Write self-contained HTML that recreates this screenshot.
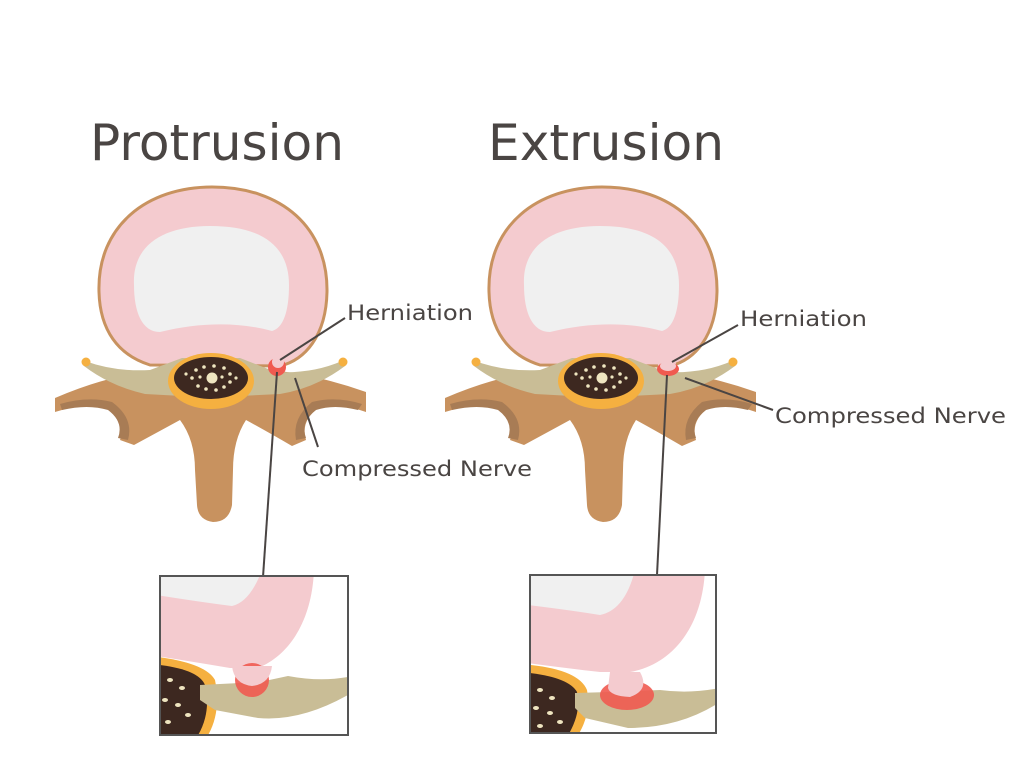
<!DOCTYPE html>
<html><head><meta charset="utf-8"><style>
html,body{margin:0;padding:0;background:#fff;}
svg{display:block;}
text{font-family:"DejaVu Sans","Liberation Sans",sans-serif;fill:#4a4543;}
</style></head><body>
<svg width="1024" height="783" viewBox="0 0 1024 783" xmlns="http://www.w3.org/2000/svg">
<defs>
<g id="vert">
  <path d="M55,398 Q115,372 175,368 L250,368 Q310,372 366,392 L366,412 Q340,403 320,407 Q300,420 306,440 L292,446 Q268,432 246,420 Q233,440 233,470 L232,505 Q229,522 213,522 Q198,520 197,505 L195,470 Q195,440 180,420 Q158,432 134,445 L120,440 Q128,420 110,407 Q85,402 55,412 Z" fill="#c8925f"/>
  <path d="M62,410 Q88,404 108,410 Q124,422 118,438 L128,440 Q134,418 112,402 Q88,396 60,404 Z" fill="#a87c55"/>
  <path d="M358,410 Q334,404 316,410 Q300,422 306,438 L296,440 Q292,418 312,402 Q336,396 362,404 Z" fill="#a87c55"/>
  <path d="M99,292 C97,225 148,187 212,187 C282,187 328,228 327,292 C326,336 305,360 280,366 L150,365 C118,355 100,330 99,292 Z" fill="#f4cbcf" stroke="#c8925f" stroke-width="3"/>
  <path d="M134,285 C132,246 162,226 210,226 C262,226 289,246 289,285 C289,312 283,328 272,331 C240,322 200,322 160,332 C142,332 134,312 134,285 Z" fill="#f0f0f0"/>
  <path d="M85,361 Q115,372 150,370 L182,358 L240,358 L276,372 Q312,374 342,361 L345,366 Q316,388 280,394 L240,396 L182,396 L145,394 Q110,386 84,366 Z" fill="#c9bd96"/>
  <circle cx="86" cy="362" r="4.5" fill="#f5b040"/>
  <circle cx="343" cy="362" r="4.5" fill="#f5b040"/>
  <ellipse cx="211" cy="381" rx="43" ry="28" fill="#f5b040"/>
  <ellipse cx="211" cy="378" rx="37" ry="21" fill="#3d2820"/>
  <g fill="#efe5c0">
    <circle cx="196" cy="370" r="1.8"/><circle cx="204" cy="367" r="1.8"/><circle cx="214" cy="366" r="1.8"/><circle cx="224" cy="368" r="1.8"/><circle cx="230" cy="374" r="1.8"/>
    <circle cx="192" cy="378" r="1.8"/><circle cx="230" cy="382" r="1.8"/><circle cx="198" cy="386" r="1.8"/><circle cx="206" cy="389" r="1.8"/><circle cx="216" cy="390" r="1.8"/><circle cx="224" cy="387" r="1.8"/>
    <circle cx="200" cy="377" r="1.6"/><circle cx="222" cy="377" r="1.6"/><circle cx="186" cy="374" r="1.6"/><circle cx="236" cy="378" r="1.6"/>
    <circle cx="212" cy="378" r="5.5"/>
  </g>
</g>
<clipPath id="c1"><rect x="161" y="577" width="186" height="157"/></clipPath>
<clipPath id="c2"><rect x="531" y="576" width="184" height="156"/></clipPath>
</defs>

<text x="90" y="160" font-size="50" textLength="254" lengthAdjust="spacingAndGlyphs">Protrusion</text>
<text x="488" y="160" font-size="50" textLength="236" lengthAdjust="spacingAndGlyphs">Extrusion</text>

<use href="#vert"/>
<use href="#vert" transform="translate(390,0)"/>

<circle cx="277" cy="367" r="9" fill="#f05a50"/>
<circle cx="278" cy="362" r="6" fill="#f4cbcf"/>
<path d="M658,352 L676,352 L676,366 L658,366 Z" fill="#f4cbcf"/>
<ellipse cx="668" cy="369" rx="11" ry="7" fill="#f05a50"/>
<ellipse cx="668" cy="366" rx="8" ry="5" fill="#f4cbcf"/>

<g stroke="#4a4543" stroke-width="2" fill="none">
  <line x1="345" y1="318" x2="280" y2="360"/>
  <line x1="318" y1="447" x2="295" y2="378"/>
  <line x1="277" y1="372" x2="263" y2="577"/>
  <line x1="738" y1="325" x2="672" y2="362"/>
  <line x1="773" y1="410" x2="685" y2="378"/>
  <line x1="667" y1="375" x2="657" y2="575"/>
</g>

<text x="347" y="320" font-size="21" textLength="126" lengthAdjust="spacingAndGlyphs">Herniation</text>
<text x="302" y="476" font-size="21" textLength="230" lengthAdjust="spacingAndGlyphs">Compressed Nerve</text>
<text x="740" y="326" font-size="21" textLength="127" lengthAdjust="spacingAndGlyphs">Herniation</text>
<text x="775" y="423" font-size="21" textLength="231" lengthAdjust="spacingAndGlyphs">Compressed Nerve</text>

<g clip-path="url(#c1)">
  <rect x="160" y="576" width="190" height="160" fill="#fff"/>
  <path d="M150,570 L314,570 C312,620 290,655 258,668 L230,668 Q195,662 150,655 Z" fill="#f4cbcf"/>
  <path d="M150,570 L262,570 Q250,602 232,606 Q200,602 150,594 Z" fill="#f0f0f0"/>
  <path d="M150,656 Q205,662 215,680 Q222,715 205,740 L150,740 Z" fill="#f5b040"/>
  <path d="M150,664 Q198,668 205,685 Q212,715 195,740 L150,740 Z" fill="#3d2820"/>
  <g fill="#efe5c0"><ellipse cx="170" cy="680" rx="3" ry="2"/><ellipse cx="182" cy="688" rx="3" ry="2"/><ellipse cx="165" cy="700" rx="3" ry="2"/><ellipse cx="178" cy="705" rx="3" ry="2"/><ellipse cx="188" cy="715" rx="3" ry="2"/><ellipse cx="168" cy="722" rx="3" ry="2"/></g>
  <path d="M200,685 L260,682 L288,676 Q320,682 348,677 L348,695 Q300,722 258,718 L215,710 L200,700 Z" fill="#c9bd96"/>
  <circle cx="252" cy="680" r="17" fill="#f05a50" opacity="0.9"/>
  <path d="M232,666 L272,666 Q270,684 252,686 Q234,684 232,666 Z" fill="#f4cbcf"/>
</g>
<rect x="160" y="576" width="188" height="159" fill="none" stroke="#555" stroke-width="2"/>

<g clip-path="url(#c2)">
  <rect x="530" y="575" width="190" height="160" fill="#fff"/>
  <path d="M520,570 L705,570 C702,630 670,665 630,672 L600,672 Q565,668 520,662 Z" fill="#f4cbcf"/>
  <path d="M520,570 L635,570 Q625,610 600,615 Q570,610 520,604 Z" fill="#f0f0f0"/>
  <path d="M520,664 Q578,668 587,690 Q592,715 575,740 L520,740 Z" fill="#f5b040"/>
  <path d="M520,672 Q568,676 577,692 Q582,715 565,740 L520,740 Z" fill="#3d2820"/>
  <g fill="#efe5c0"><ellipse cx="540" cy="690" rx="3" ry="2"/><ellipse cx="552" cy="698" rx="3" ry="2"/><ellipse cx="536" cy="708" rx="3" ry="2"/><ellipse cx="550" cy="713" rx="3" ry="2"/><ellipse cx="560" cy="722" rx="3" ry="2"/><ellipse cx="540" cy="726" rx="3" ry="2"/></g>
  <path d="M575,693 L610,692 L660,690 Q690,694 720,688 L720,702 Q680,728 628,728 L585,718 L575,708 Z" fill="#c9bd96"/>
  <ellipse cx="627" cy="695" rx="27" ry="15" fill="#f05a50" opacity="0.9"/>
  <path d="M610,672 L640,672 Q650,690 630,697 Q610,696 608,688 Z" fill="#f4cbcf"/>
</g>
<rect x="530" y="575" width="186" height="158" fill="none" stroke="#555" stroke-width="2"/>
</svg>
</body></html>
